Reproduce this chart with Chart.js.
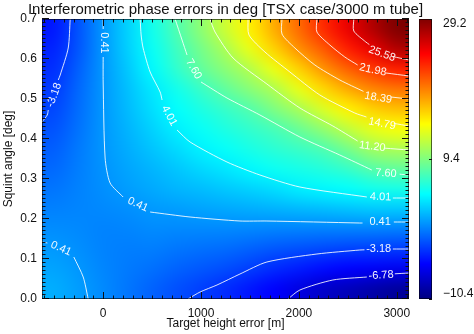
<!DOCTYPE html>
<html>
<head>
<meta charset="utf-8">
<title>Interferometric phase errors</title>
<script src="https://cdn.jsdelivr.net/npm/chart.js"></script>
<style>
  body { margin: 0; background: #fff; }
</style>
</head>
<body>
<canvas id="phaseChart" width="474" height="334"></canvas>
<script>
// grid cell centres
const heightErr = [-500, -250, 0, 250, 500, 750, 1000, 1250, 1500, 1750, 2000, 2250, 2500, 2750, 3000];
const squint = [0.025, 0.075, 0.125, 0.175, 0.225, 0.275, 0.325, 0.375, 0.425, 0.475, 0.525, 0.575, 0.625, 0.675];

// phase error [deg], one row per squint value, bottom row first
const phaseErr = [
  [1.3, 0.65, -0.1, -0.85, -1.63, -2.4, -3.05, -3.78, -4.65, -5.48, -6.59, -7.5, -8.1, -8.7, -9.3],
  [0.9, 0.41, -0.25, -0.7, -1.1, -1.64, -2.08, -2.48, -3.14, -3.85, -4.46, -5.08, -5.49, -5.76, -6.06],
  [0.48, 0.1, -0.35, -0.55, -0.57, -0.88, -1.1, -1.3, -1.68, -2.11, -2.37, -2.67, -2.93, -3.05, -3.18],
  [0.03, -0.15, -0.35, -0.3, -0.04, -0.12, -0.13, -0.13, -0.21, -0.31, -0.35, -0.39, -0.41, -0.42, -0.49],
  [-0.44, -0.3, -0.15, 0.12, 0.49, 0.65, 0.87, 1.07, 1.25, 1.45, 1.71, 1.89, 2.11, 2.34, 2.35],
  [-0.9, -0.4, 0.1, 0.63, 1.1, 1.56, 1.9, 2.3, 2.7, 3.18, 3.8, 4.14, 4.52, 5.09, 5.3],
  [-1.36, -0.55, 0.25, 0.94, 1.58, 2.22, 2.93, 3.53, 4.16, 4.86, 5.29, 5.81, 6.56, 7.76, 8.25],
  [-1.82, -0.73, 0.38, 1.25, 2.15, 3.04, 3.95, 4.66, 5.37, 6.09, 6.71, 7.48, 9.0, 10.66, 11.13],
  [-2.28, -0.98, 0.41, 1.55, 2.71, 3.87, 4.74, 5.57, 6.4, 7.23, 8.52, 10.1, 11.9, 13.37, 14.06],
  [-2.74, -1.21, 0.41, 1.81, 3.21, 4.47, 5.53, 6.6, 7.67, 9.36, 10.99, 12.96, 14.85, 16.14, 16.84],
  [-3.2, -1.41, 0.41, 2.0, 3.59, 5.14, 6.68, 8.2, 9.72, 11.24, 13.52, 15.84, 17.66, 19.06, 19.75],
  [-3.66, -1.72, 0.41, 2.33, 4.26, 6.33, 8.21, 9.79, 11.44, 13.7, 16.09, 18.52, 20.52, 22.03, 23.1],
  [-4.1, -2.1, 0.41, 2.61, 4.78, 6.87, 8.98, 11.1, 13.55, 16.1, 18.67, 20.79, 23.1, 25.1, 27.2],
  [-4.57, -2.24, 0.41, 2.76, 5.1, 7.46, 9.91, 12.41, 14.9, 17.58, 20.13, 22.61, 25.0, 27.2, 29.2]
];

const cbarTicks = [-10.4, 9.4, 29.2];
const xAxisTicks = [0, 1000, 2000, 3000];
const yAxisTicks = [0, 0.1, 0.2, 0.3, 0.4, 0.5, 0.6, 0.7];

// contour lines [height error, squint]; null leaves the gap for the label
const c25_58 = [[2561, 0.70], [2561, 0.67], [2684, 0.6425], [2720, 0.636], null, [2960, 0.606], [3125, 0.5975]];
const c21_98 = [[2184, 0.70], [2184, 0.6675], [2316, 0.635], [2469, 0.605], [2600, 0.585], null, [2890, 0.565], [3125, 0.5575]];
const c18_39 = [[1827, 0.70], [1827, 0.6625], [1959, 0.6275], [2163, 0.585], [2418, 0.5475], [2660, 0.519], null, [2940, 0.505], [3125, 0.50]];
const c14_79 = [[1480, 0.70], [1490, 0.66], [1653, 0.6175], [1908, 0.5675], [2214, 0.51], [2571, 0.465], [2690, 0.455], null, [2970, 0.439], [3125, 0.4325]];
const c11_20 = [[1092, 0.70], [1143, 0.6675], [1327, 0.6025], [1673, 0.5375], [2010, 0.4775], [2347, 0.4325], [2600, 0.395], null, [2880, 0.377], [3125, 0.3725]];
const c7_60 = [[735, 0.70], [806, 0.6475], [857, 0.61], null, [1000, 0.5425], [1265, 0.5025], [1602, 0.46], [2010, 0.405], [2418, 0.36], [2745, 0.3225], null, [3030, 0.312], [3125, 0.31]];
const c4_01 = [[378, 0.70], [388, 0.66], [408, 0.6275], [480, 0.5675], [582, 0.5175], [602, 0.4975], null, [755, 0.4225], [888, 0.3925], [1265, 0.3425], [1602, 0.31], [2010, 0.28], [2694, 0.255], null, [2960, 0.2525], [3125, 0.2525]];
const c0_41a = [[0, 0.70], [0, 0.675], null, [0, 0.605], [0, 0.5425], [20, 0.3525], [71, 0.29], [204, 0.255], null, [480, 0.2175], [888, 0.205], [1398, 0.195], [1673, 0.195], [2622, 0.19], [2650, 0.19], null, [2970, 0.1925], [3125, 0.1925]];
const c0_41b = [[-625, 0.1425], [-570, 0.14], null, [-300, 0.105], [-204, 0.055], [-153, 0]];
const cm3_18a = [[-337, 0.70], [-357, 0.6275], [-439, 0.56], [-459, 0.5475], null, [-561, 0.4725], [-571, 0.46], [-625, 0.4425]];
const cm3_18b = [[867, 0], [990, 0.0175], [1163, 0.035], [1398, 0.0625], [1673, 0.0925], [2184, 0.1125], [2622, 0.1225], [2670, 0.123], null, [2960, 0.125], [3125, 0.125]];
const cm6_78 = [[1888, 0], [2010, 0.0225], [2347, 0.0475], [2694, 0.055], null, [2980, 0.063], [3125, 0.065]];

const contourPaths = [c25_58, c21_98, c18_39, c14_79, c11_20, c7_60, c4_01, c0_41a, c0_41b, cm3_18a, cm3_18b, cm6_78];

// label text, height error, squint, angle
const contourLabels = [
  ['25.58', 2850, 0.613, 20], ['21.98', 2755, 0.5725, 12], ['18.39', 2810, 0.503, 10],
  ['14.79', 2850, 0.438, 11], ['11.20', 2750, 0.381, 7], ['7.60', 2890, 0.314, 4],
  ['7.60', 925, 0.575, 60], ['4.01', 2835, 0.255, 2], ['4.01', 675, 0.458, 62],
  ['0.41', 2830, 0.1925, 0], ['0.41', 355, 0.236, 24], ['0.41', 12, 0.64, 90],
  ['0.41', -430, 0.126, 24], ['-3.18', 2815, 0.125, 0], ['-3.18', -500, 0.51, -70],
  ['-6.78', 2840, 0.059, -4]
];

const cMin = cbarTicks[0], cMax = cbarTicks[cbarTicks.length - 1];

function jet(v) {
  let t = (v - cMin) / (cMax - cMin);
  t = Math.min(1, Math.max(0, t));
  const f = c => Math.round(255 * Math.min(1, Math.max(0, 1.5 - Math.abs(4 * t - c))));
  return [f(3), f(2), f(1)];
}

const FONT = '"Liberation Sans", Arial, sans-serif';

// colour image of the grid, stretched over the cells through the scales
const heatmap = {
  id: 'heatmap',
  beforeDatasetsDraw(chart) {
    const { ctx, chartArea: a, scales: { x, y } } = chart;
    const nx = heightErr.length, ny = squint.length;
    const off = document.createElement('canvas');
    off.width = nx + 2; off.height = ny + 2;
    const octx = off.getContext('2d');
    const img = octx.createImageData(nx + 2, ny + 2);
    for (let j = -1; j <= ny; j++) {
      const row = phaseErr[Math.min(ny - 1, Math.max(0, j))];
      for (let i = -1; i <= nx; i++) {
        const c = jet(row[Math.min(nx - 1, Math.max(0, i))]);
        const k = ((ny - j) * (nx + 2) + (i + 1)) * 4;
        img.data[k] = c[0]; img.data[k + 1] = c[1]; img.data[k + 2] = c[2]; img.data[k + 3] = 255;
      }
    }
    octx.putImageData(img, 0, 0);
    const hx = (heightErr[1] - heightErr[0]) / 2, hy = (squint[1] - squint[0]) / 2;
    const l = x.getPixelForValue(heightErr[0] - hx), r = x.getPixelForValue(heightErr[nx - 1] + hx);
    const t = y.getPixelForValue(squint[ny - 1] + hy), b = y.getPixelForValue(squint[0] - hy);
    ctx.save();
    ctx.beginPath(); ctx.rect(a.left, a.top, a.width, a.height); ctx.clip();
    ctx.imageSmoothingEnabled = true;
    ctx.imageSmoothingQuality = 'high';
    ctx.drawImage(off, 1, 1, nx, ny, l, t, r - l, b - t);
    ctx.restore();
  }
};

// contour labels, inward ticks, frame
const decorations = {
  id: 'decorations',
  afterDatasetsDraw(chart) {
    const { ctx, chartArea: a, scales: { x, y } } = chart;
    ctx.save();
    ctx.beginPath(); ctx.rect(a.left, a.top, a.width, a.height); ctx.clip();
    ctx.fillStyle = 'rgba(255,255,255,0.95)';
    ctx.font = '11px ' + FONT;
    ctx.textAlign = 'center';
    ctx.textBaseline = 'middle';
    contourLabels.forEach(([txt, lx, ly, ang]) => {
      ctx.save();
      ctx.translate(x.getPixelForValue(lx), y.getPixelForValue(ly));
      ctx.rotate(ang * Math.PI / 180);
      ctx.fillText(txt, 0, 0);
      ctx.restore();
    });
    ctx.restore();

    ctx.save();
    ctx.strokeStyle = '#111';
    ctx.lineWidth = 1;
    ctx.beginPath();
    for (let v = -600; v <= 3100; v += 100) {
      const px = Math.round(x.getPixelForValue(v)) + 0.5;
      const len = v % 1000 === 0 ? 7 : 3.5;
      ctx.moveTo(px, a.bottom); ctx.lineTo(px, a.bottom - len);
      ctx.moveTo(px, a.top); ctx.lineTo(px, a.top + len);
    }
    for (let k = 0; k <= 70; k++) {
      const py = Math.round(y.getPixelForValue(k / 100)) - 0.5;
      const len = k % 10 === 0 ? 7 : 3.5;
      ctx.moveTo(a.left, py); ctx.lineTo(a.left + len, py);
      ctx.moveTo(a.right, py); ctx.lineTo(a.right - len, py);
    }
    ctx.stroke();
    ctx.strokeStyle = 'rgba(0,0,0,0.6)';
    ctx.strokeRect(a.left + 0.5, a.top + 0.5, a.width - 1, a.height - 1);
    ctx.restore();
  },
  afterDraw(chart) {
    const { ctx, chartArea: a } = chart;
    ctx.save();
    // title
    ctx.fillStyle = '#111';
    ctx.font = '15px ' + FONT;
    ctx.textAlign = 'center';
    ctx.textBaseline = 'alphabetic';
    ctx.fillText('Interferometric phase errors in deg [TSX case/3000 m tube]', (a.left + a.right) / 2, 14);

    // colour bar
    const bx = a.right + 10, bw = 13;
    for (let py = a.top; py < a.bottom; py++) {
      const v = cMax - (py + 0.5 - a.top) / a.height * (cMax - cMin);
      const c = jet(v);
      ctx.fillStyle = `rgb(${c[0]},${c[1]},${c[2]})`;
      ctx.fillRect(bx, py, bw, 1);
    }
    ctx.strokeStyle = 'rgba(0,0,0,0.6)';
    ctx.strokeRect(bx + 0.5, a.top + 0.5, bw - 1, a.height - 1);
    ctx.fillStyle = '#111';
    ctx.font = '12px ' + FONT;
    ctx.textAlign = 'left';
    ctx.textBaseline = 'middle';
    ctx.beginPath();
    cbarTicks.forEach(v => {
      const py = a.bottom - (v - cMin) / (cMax - cMin) * a.height;
      ctx.moveTo(bx + bw, Math.round(py) + 0.5); ctx.lineTo(bx + bw - 3, Math.round(py) + 0.5);
      const ty = Math.min(a.bottom - 5, Math.max(a.top + 5, py));
      ctx.fillText(v.toFixed(1).replace('-', '\u2212'), bx + bw + 11, ty);
    });
    ctx.strokeStyle = '#111';
    ctx.stroke();
    ctx.restore();
  }
};

const datasets = contourPaths.map(path => ({
  data: path.map(p => p ? { x: p[0], y: p[1] } : { x: null, y: null }),
  showLine: true,
  spanGaps: false,
  borderColor: 'rgba(255,255,255,0.85)',
  borderWidth: 1,
  pointRadius: 0,
  tension: 0.25
}));

new Chart(document.getElementById('phaseChart').getContext('2d'), {
  type: 'scatter',
  data: { datasets },
  options: {
    responsive: false,
    animation: false,
    devicePixelRatio: 1,
    layout: { padding: { top: 19, right: 65, left: 0, bottom: 0 } },
    plugins: { legend: { display: false }, tooltip: { enabled: false } },
    scales: {
      x: {
        type: 'linear', min: -625, max: 3125,
        grid: { display: false, drawTicks: false },
        border: { display: false },
        afterBuildTicks: s => { s.ticks = xAxisTicks.map(v => ({ value: v })); },
        afterFit: s => { s.height = 35; },
        ticks: { color: '#111', font: { family: FONT, size: 12 }, padding: 7, maxRotation: 0, autoSkip: false, callback: v => String(v) },
        title: { display: true, text: 'Target height error [m]', color: '#111', font: { family: FONT, size: 12 }, padding: { top: 0, bottom: 3 } }
      },
      y: {
        type: 'linear', min: 0, max: 0.7,
        grid: { display: false, drawTicks: false },
        border: { display: false },
        afterBuildTicks: s => { s.ticks = yAxisTicks.map(v => ({ value: v })); },
        afterFit: s => { s.width = 42; },
        ticks: { color: '#111', font: { family: FONT, size: 12 }, padding: 5, autoSkip: false, callback: v => v.toFixed(1) },
        title: { display: true, text: 'Squint angle [deg]', color: '#111', font: { family: FONT, size: 12 }, padding: { top: 1, bottom: 0 } }
      }
    }
  },
  plugins: [heatmap, decorations]
});
</script>
</body>
</html>
